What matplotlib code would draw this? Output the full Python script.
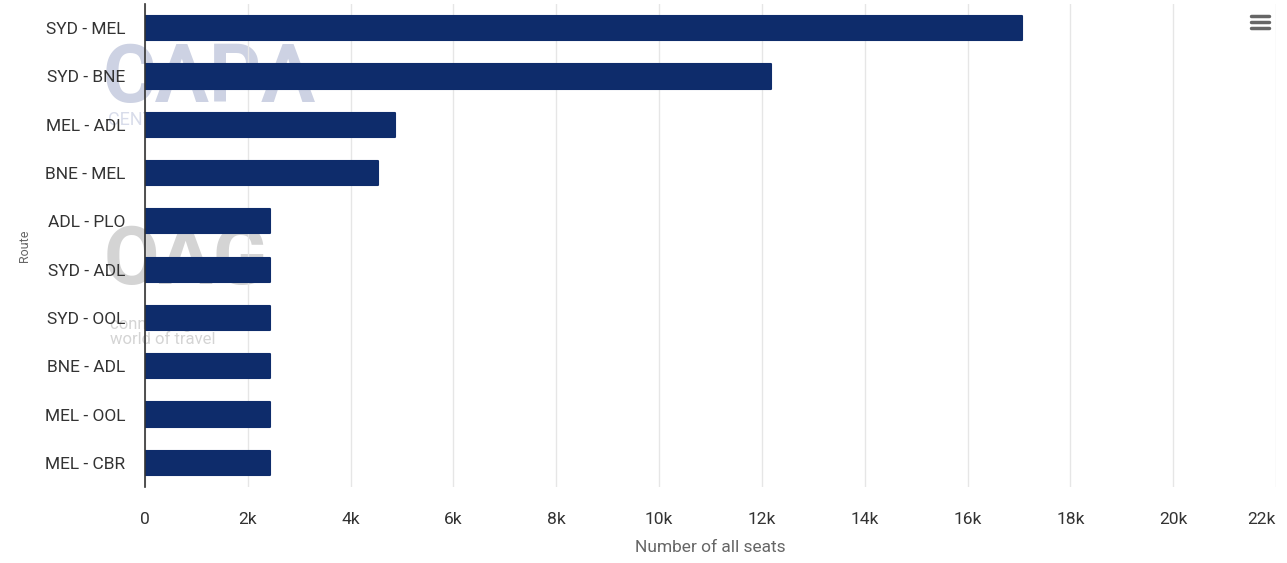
"""
Seats by route - horizontal bar chart.
"""

import matplotlib.pyplot as plt
from matplotlib.lines import Line2D

# data
routes = ["SYD - MEL", "SYD - BNE", "MEL - ADL", "BNE - MEL", "ADL - PLO",
          "SYD - ADL", "SYD - OOL", "BNE - ADL", "MEL - OOL", "MEL - CBR"]
seats = [17060, 12180, 4860, 4530, 2430, 2430, 2430, 2430, 2430, 2430]
x_ticks = [0, 2000, 4000, 6000, 8000, 10000, 12000, 14000, 16000, 18000, 20000, 22000]
x_tick_labels = ["0", "2k", "4k", "6k", "8k", "10k", "12k", "14k", "16k", "18k", "20k", "22k"]

bar_color = "#0e2c6b"

plt.rcParams["font.family"] = ["Roboto", "DejaVu Sans"]

fig = plt.figure(figsize=(12.87, 5.63), dpi=100)
ax = fig.add_axes([145 / 1287, 1 - 487 / 563, 1131 / 1287, 483 / 563])
ax.set_zorder(2)

# watermarks (behind the chart)
fig.text(103 / 1287, 1 - 80 / 563, "CAPA", fontsize=58, fontweight="bold",
         color="#cdd2e3", va="center", ha="left", zorder=0)
fig.text(108 / 1287, 1 - 120 / 563, "CENTRE FOR AVIATION", fontsize=13,
         color="#d8dcea", va="center", ha="left", zorder=0)
fig.text(104 / 1287, 1 - 262 / 563, "OAG", fontsize=58, fontweight="bold",
         color="#d4d4d4", va="center", ha="left", zorder=0)
fig.text(110 / 1287, 1 - 332 / 563, "connecting the\nworld of travel", fontsize=12,
         color="#d4d4d4", va="center", ha="left", linespacing=0.95, zorder=0)

y = list(range(len(routes)))
ax.barh(y, seats, height=0.5, color=bar_color, edgecolor=bar_color,
        linewidth=1.5, joinstyle="round", zorder=3)

ax.set_ylim(len(routes) - 0.5, -0.5)
ax.set_xlim(0, 22000)
ax.set_yticks(y)
ax.set_yticklabels(routes)
ax.set_xticks(x_ticks)
ax.set_xticklabels(x_tick_labels)
# last label kept inside the figure, like the original
ax.get_xticklabels()[-1].set_horizontalalignment("right")

ax.patch.set_alpha(0)
ax.grid(axis="x", color="#e6e6e6", linewidth=1, zorder=0)
for side in ["top", "right", "bottom"]:
    ax.spines[side].set_visible(False)
ax.spines["left"].set_color("#333333")
ax.spines["left"].set_linewidth(1.2)
ax.spines["left"].set_zorder(4)

ax.tick_params(axis="both", length=0, labelsize=12.5, labelcolor="#333333")
ax.tick_params(axis="y", pad=14)
ax.tick_params(axis="x", pad=18)

ax.set_xlabel("Number of all seats", fontsize=12.5, color="#666666", labelpad=9)
ax.set_ylabel("Route", fontsize=9, color="#666666", labelpad=10)

# menu icon
for yy in [16, 22, 28]:
    fig.add_artist(Line2D([1251 / 1287, 1269 / 1287], [1 - yy / 563, 1 - yy / 563],
                          color="#666666", linewidth=2.5, solid_capstyle="round"))

plt.savefig("out.png", dpi=100)
plt.close()
